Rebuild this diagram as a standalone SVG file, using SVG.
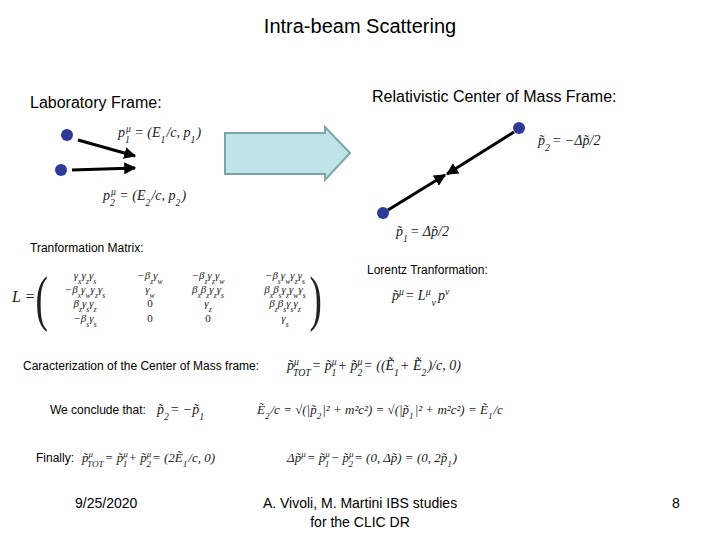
<svg xmlns="http://www.w3.org/2000/svg" width="720" height="540" viewBox="0 0 720 540">
<style>
.s{font-family:"Liberation Sans",Arial,sans-serif;fill:#000}
.m{font-family:"Liberation Serif","Times New Roman",serif;font-style:italic;fill:#222}
.r{font-family:"Liberation Serif","Times New Roman",serif;fill:#222}
.u{font-size:70%;baseline-shift:sub}
.p{font-size:70%;baseline-shift:super}
.dot{fill:#2e3a96}
.ln{stroke:#000;stroke-width:3;fill:none}
</style>
<defs>
<marker id="ah" viewBox="0 0 10 10" refX="9" refY="5" markerWidth="4" markerHeight="4" orient="auto" markerUnits="strokeWidth"><path d="M0,0 L10,5 L0,10 z" fill="#000"/></marker>
</defs>
<rect width="720" height="540" fill="#fff"/>
<text class="s" x="360" y="33" font-size="20" text-anchor="middle">Intra-beam Scattering</text>
<text class="s" x="30" y="108" font-size="16">Laboratory Frame:</text>
<text class="s" x="372" y="102" font-size="16">Relativistic Center of Mass Frame:</text>

<g id="lab-particles">
<circle class="dot" cx="67" cy="135" r="6"/>
<circle class="dot" cx="61" cy="170" r="6"/>
<text class="m" x="118" y="137" font-size="14">p<tspan class="u">1</tspan><tspan class="p" dx="-4">μ</tspan> = (E<tspan class="u">1</tspan><tspan dx="1">/c, p</tspan><tspan class="u">1</tspan><tspan dx="1">)</tspan></text>
<text class="m" x="103" y="200" font-size="14">p<tspan class="u">2</tspan><tspan class="p" dx="-4">μ</tspan> = (E<tspan class="u">2</tspan><tspan dx="1">/c, p</tspan><tspan class="u">2</tspan><tspan dx="1">)</tspan></text>
</g>
<g id="big-arrow">
<path d="M225,133 H325 V127 L350,153 L325,180 V174 H225 Z" fill="#bfe3e6" stroke="#7aa6a8" stroke-width="2"/>
</g>
<g id="cm-particles">
<circle class="dot" cx="519" cy="128" r="6"/>
<circle class="dot" cx="383" cy="213" r="6"/>
<text class="m" x="538" y="145" font-size="14">p̃<tspan class="u">2</tspan><tspan dx="2">= −Δp̃/2</tspan></text>
<text class="m" x="396" y="236" font-size="14">p̃<tspan class="u">1</tspan><tspan dx="2">= Δp̃/2</tspan></text>
</g>
<g id="connectors">
<line class="ln" x1="78" y1="140" x2="135" y2="156" marker-end="url(#ah)"/>
<line class="ln" x1="72" y1="170" x2="135" y2="168" marker-end="url(#ah)"/>
<line class="ln" x1="388" y1="210" x2="445" y2="175" marker-end="url(#ah)"/>
<line class="ln" x1="514" y1="132" x2="447" y2="174" marker-end="url(#ah)"/>
</g>

<text class="s" x="30" y="252" font-size="12">Tranformation Matrix:</text>
<g id="matrix" font-size="11">
<text class="m" x="12" y="302" font-size="16">L =</text>
<text class="r" x="36" y="319" font-size="62" transform="translate(14,0) scale(0.6,1)">(</text>
<text class="r" x="516" y="319" font-size="62" transform="scale(0.6,1)">)</text>
<g class="m" text-anchor="middle">
<text x="85" y="279">γ<tspan class="u">x</tspan><tspan>γ</tspan><tspan class="u">z</tspan><tspan>γ</tspan><tspan class="u">s</tspan></text>
<text x="150" y="279">−β<tspan class="u">z</tspan><tspan>γ</tspan><tspan class="u">w</tspan></text>
<text x="208" y="279">−β<tspan class="u">z</tspan><tspan>γ</tspan><tspan class="u">z</tspan><tspan>γ</tspan><tspan class="u">w</tspan></text>
<text x="285" y="279">−β<tspan class="u">s</tspan><tspan>γ</tspan><tspan class="u">w</tspan><tspan>γ</tspan><tspan class="u">z</tspan><tspan>γ</tspan><tspan class="u">s</tspan></text>
<text x="85" y="293">−β<tspan class="u">x</tspan><tspan>γ</tspan><tspan class="u">w</tspan><tspan>γ</tspan><tspan class="u">z</tspan><tspan>γ</tspan><tspan class="u">s</tspan></text>
<text x="150" y="293">γ<tspan class="u">w</tspan></text>
<text x="208" y="293">β<tspan class="u">x</tspan><tspan>β</tspan><tspan class="u">z</tspan><tspan>γ</tspan><tspan class="u">z</tspan><tspan>γ</tspan><tspan class="u">s</tspan></text>
<text x="285" y="293">β<tspan class="u">x</tspan><tspan>β</tspan><tspan class="u">s</tspan><tspan>γ</tspan><tspan class="u">z</tspan><tspan>γ</tspan><tspan class="u">w</tspan><tspan>γ</tspan><tspan class="u">s</tspan></text>
<text x="85" y="307">β<tspan class="u">z</tspan><tspan>γ</tspan><tspan class="u">s</tspan><tspan>γ</tspan><tspan class="u">z</tspan></text>
<text x="150" y="307" style="font-style:normal">0</text>
<text x="208" y="307">γ<tspan class="u">z</tspan></text>
<text x="285" y="307">β<tspan class="u">z</tspan><tspan>β</tspan><tspan class="u">s</tspan><tspan>γ</tspan><tspan class="u">s</tspan><tspan>γ</tspan><tspan class="u">z</tspan></text>
<text x="85" y="322">−β<tspan class="u">s</tspan><tspan>γ</tspan><tspan class="u">s</tspan></text>
<text x="150" y="322" style="font-style:normal">0</text>
<text x="208" y="322" style="font-style:normal">0</text>
<text x="285" y="322">γ<tspan class="u">s</tspan></text>
</g>
</g>

<text class="s" x="367" y="274" font-size="12">Lorentz Tranformation:</text>
<text class="m" x="392" y="300" font-size="14">p̃<tspan class="p">μ</tspan><tspan dx="1">= L</tspan><tspan class="p">μ</tspan><tspan class="u" dx="1">ν</tspan><tspan dx="2">p</tspan><tspan class="p">ν</tspan></text>

<text class="s" x="23" y="370" font-size="12">Caracterization of the Center of Mass frame:</text>
<text class="m" x="287" y="370" font-size="14">p̃<tspan class="p">μ</tspan><tspan class="u" dx="-6">TOT</tspan><tspan dx="1">= p̃</tspan><tspan class="p">μ</tspan><tspan class="u" dx="-5">1</tspan><tspan dx="1">+ p̃</tspan><tspan class="p">μ</tspan><tspan class="u" dx="-5">2</tspan><tspan dx="1">= ((Ẽ</tspan><tspan class="u">1</tspan><tspan dx="1">+ Ẽ</tspan><tspan class="u">2</tspan><tspan dx="1">)/c, 0)</tspan></text>

<text class="s" x="50" y="414" font-size="12">We conclude that:</text>
<text class="m" x="157" y="414" font-size="14">p̃<tspan class="u">2</tspan><tspan dx="1">= −p̃</tspan><tspan class="u">1</tspan></text>
<text class="m" x="257" y="414" font-size="13">Ẽ<tspan class="u">2</tspan><tspan dx="1">/c = √(|p̃</tspan><tspan class="u">2</tspan><tspan dx="1">|² + m²c²) = √(|p̃</tspan><tspan class="u">1</tspan><tspan dx="1">|² + m²c²) = Ẽ</tspan><tspan class="u">1</tspan><tspan dx="1">/c</tspan></text>

<text class="s" x="36" y="462" font-size="12">Finally:</text>
<text class="m" x="82" y="462" font-size="13">p̃<tspan class="p">μ</tspan><tspan class="u" dx="-6">TOT</tspan><tspan dx="1">= p̃</tspan><tspan class="p">μ</tspan><tspan class="u" dx="-5">1</tspan><tspan dx="1">+ p̃</tspan><tspan class="p">μ</tspan><tspan class="u" dx="-5">2</tspan><tspan dx="1">= (2Ẽ</tspan><tspan class="u">1</tspan><tspan dx="1">/c, 0)</tspan></text>
<text class="m" x="287" y="462" font-size="13">Δp̃<tspan class="p">μ</tspan><tspan dx="1">= p̃</tspan><tspan class="p">μ</tspan><tspan class="u" dx="-5">1</tspan><tspan dx="1">− p̃</tspan><tspan class="p">μ</tspan><tspan class="u" dx="-5">2</tspan><tspan dx="1">= (0, Δp̃) = (0, 2p̃</tspan><tspan class="u">1</tspan><tspan dx="1">)</tspan></text>

<text class="s" x="75" y="508" font-size="14">9/25/2020</text>
<text class="s" x="360" y="508" font-size="14" text-anchor="middle">A. Vivoli, M. Martini IBS studies</text>
<text class="s" x="360" y="527" font-size="14" text-anchor="middle">for the CLIC DR</text>
<text class="s" x="672" y="508" font-size="14">8</text>
</svg>
